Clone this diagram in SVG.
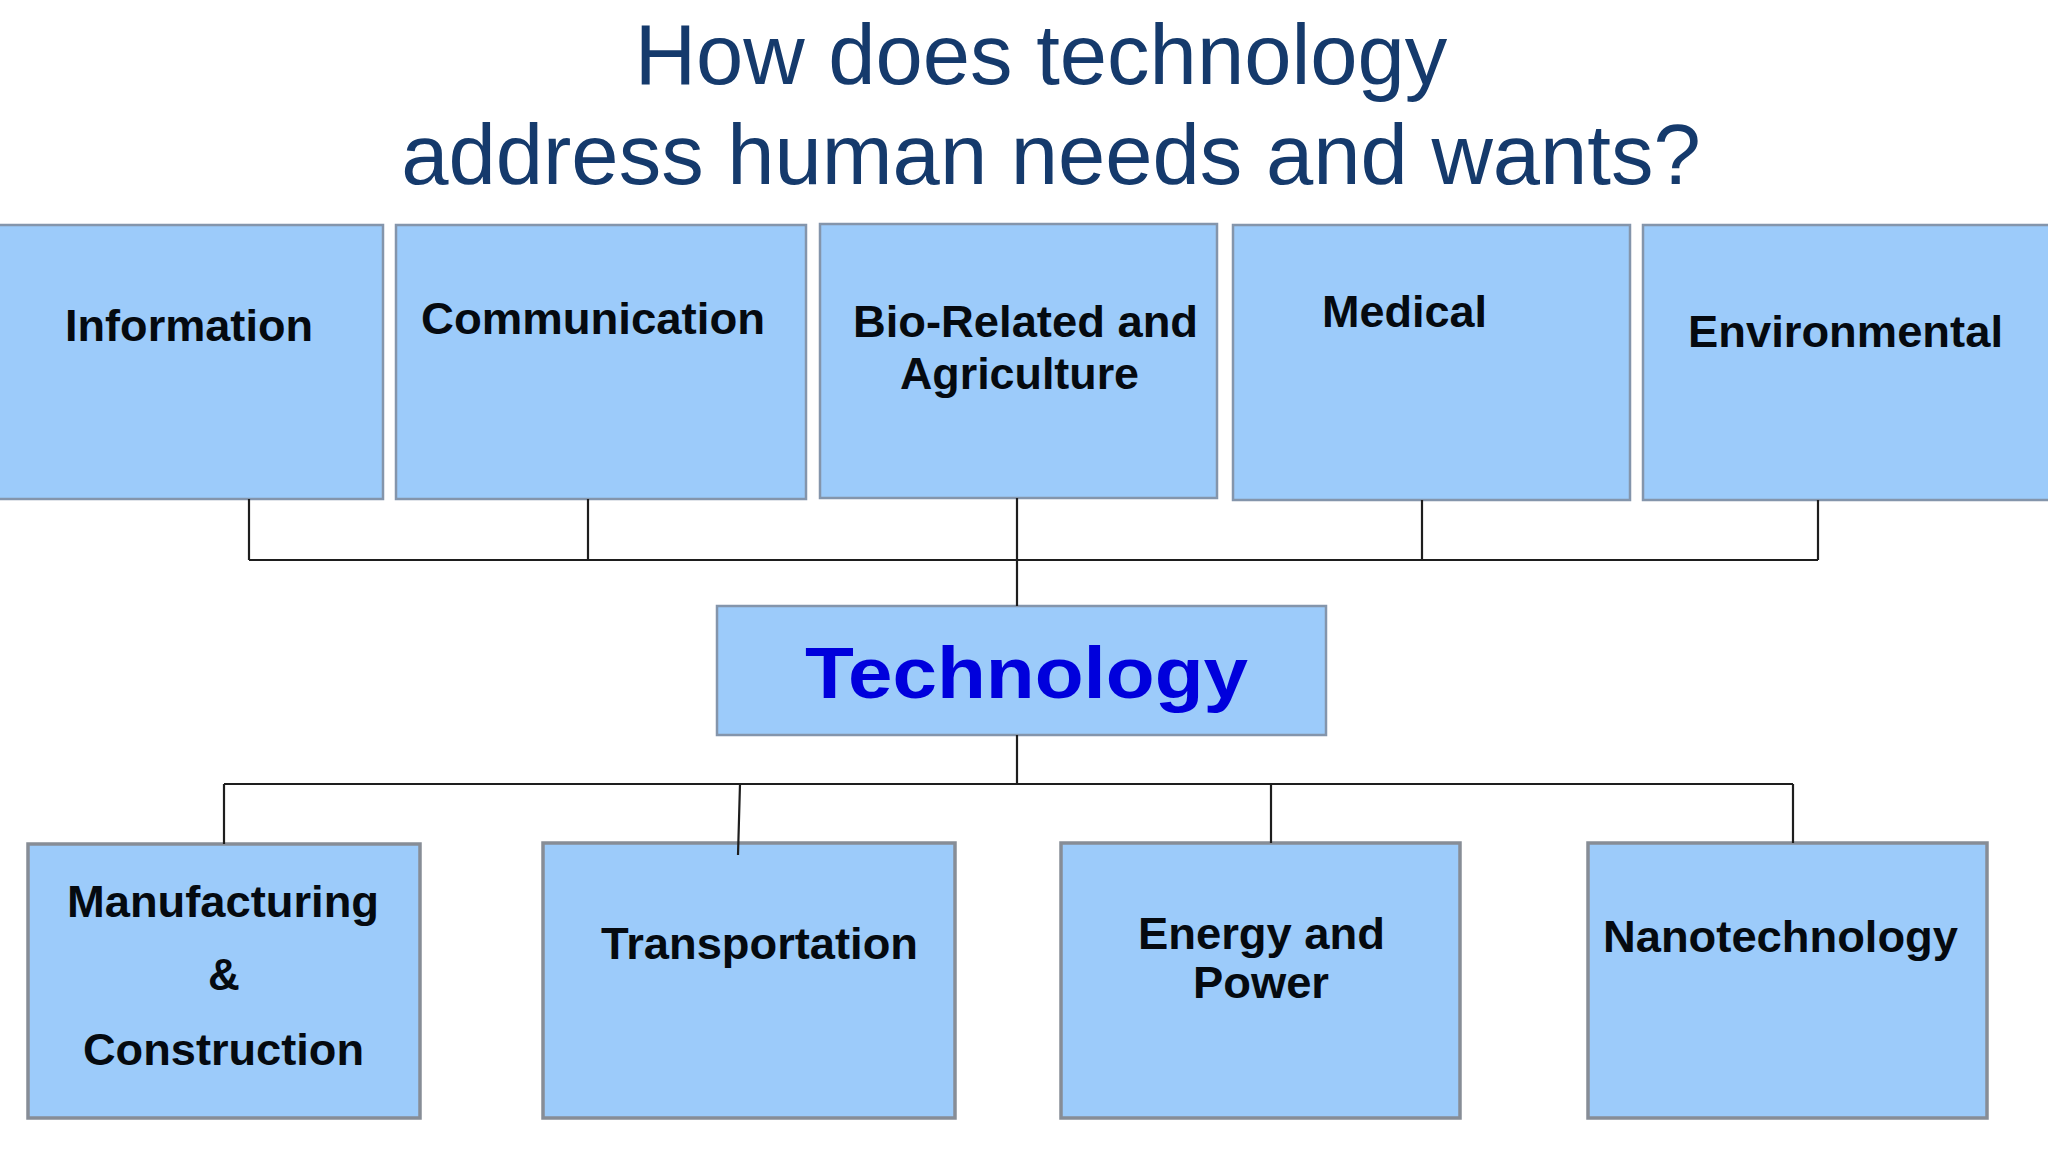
<svg xmlns="http://www.w3.org/2000/svg" width="2048" height="1152" viewBox="0 0 2048 1152">
<style>
.title{font-family:"Liberation Sans",Arial,sans-serif;font-size:85px;fill:#153a6c;text-anchor:middle}
.box{fill:#9ccbfa;stroke:#8495ab;stroke-width:2.5}
.box2{fill:#9ccbfa;stroke:#878d96;stroke-width:3.5}
.lbl{font-family:"Liberation Sans",Arial,sans-serif;font-weight:bold;font-size:44px;fill:#050a10}
.tech{font-family:"Liberation Sans",Arial,sans-serif;font-weight:bold;font-size:72px;fill:#0000dc}
.conn{stroke:#1e1e1e;stroke-width:2.2;fill:none}
</style>
<rect width="2048" height="1152" fill="#ffffff"/>
<g id="title">
<text class="title" x="1041" y="84">How does technology</text>
<text class="title" x="1051" y="184">address human needs and wants?</text>
</g>
<g id="node-information">
<rect class="box" x="-3" y="225" width="386" height="274"/>
<text class="lbl" x="65" y="341" textLength="248" lengthAdjust="spacingAndGlyphs">Information</text>
</g>
<g id="node-communication">
<rect class="box" x="396" y="225" width="410" height="274"/>
<text class="lbl" x="421" y="334" textLength="344" lengthAdjust="spacingAndGlyphs">Communication</text>
</g>
<g id="node-bio">
<rect class="box" x="820" y="224" width="397" height="274"/>
<text class="lbl" x="853" y="337" textLength="345" lengthAdjust="spacingAndGlyphs">Bio-Related and</text>
<text class="lbl" x="900" y="389" textLength="239" lengthAdjust="spacingAndGlyphs">Agriculture</text>
</g>
<g id="node-medical">
<rect class="box" x="1233" y="225" width="397" height="275"/>
<text class="lbl" x="1322" y="327" textLength="165" lengthAdjust="spacingAndGlyphs">Medical</text>
</g>
<g id="node-environmental">
<rect class="box" x="1643" y="225" width="420" height="275"/>
<text class="lbl" x="1688" y="347" textLength="315" lengthAdjust="spacingAndGlyphs">Environmental</text>
</g>
<g id="node-technology">
<rect class="box" x="717" y="606" width="609" height="129"/>
<text class="tech" x="805" y="698" textLength="443" lengthAdjust="spacingAndGlyphs">Technology</text>
</g>
<g id="node-manufacturing">
<rect class="box2" x="28" y="844" width="392" height="274"/>
<text class="lbl" x="67" y="917" textLength="312" lengthAdjust="spacingAndGlyphs">Manufacturing</text>
<text class="lbl" x="224" y="990" text-anchor="middle">&amp;</text>
<text class="lbl" x="83" y="1065" textLength="281" lengthAdjust="spacingAndGlyphs">Construction</text>
</g>
<g id="node-transportation">
<rect class="box2" x="543" y="843" width="412" height="275"/>
<text class="lbl" x="601" y="959" textLength="317" lengthAdjust="spacingAndGlyphs">Transportation</text>
</g>
<g id="node-energy">
<rect class="box2" x="1061" y="843" width="399" height="275"/>
<text class="lbl" x="1138" y="949" textLength="247" lengthAdjust="spacingAndGlyphs">Energy and</text>
<text class="lbl" x="1193" y="998" textLength="136" lengthAdjust="spacingAndGlyphs">Power</text>
</g>
<g id="node-nanotechnology">
<rect class="box2" x="1588" y="843" width="399" height="275"/>
<text class="lbl" x="1603" y="952" textLength="355" lengthAdjust="spacingAndGlyphs">Nanotechnology</text>
</g>
<g id="connectors">
<path class="conn" d="M249 499V560M588 499V560M1422 500V560M1818 500V560M249 560H1818M1017 498V606"/>
<path class="conn" d="M1017 735V784M224 784H1793M224 784V844M740 784L738 855M1271 784V843M1793 784V843"/>
</g>
</svg>
